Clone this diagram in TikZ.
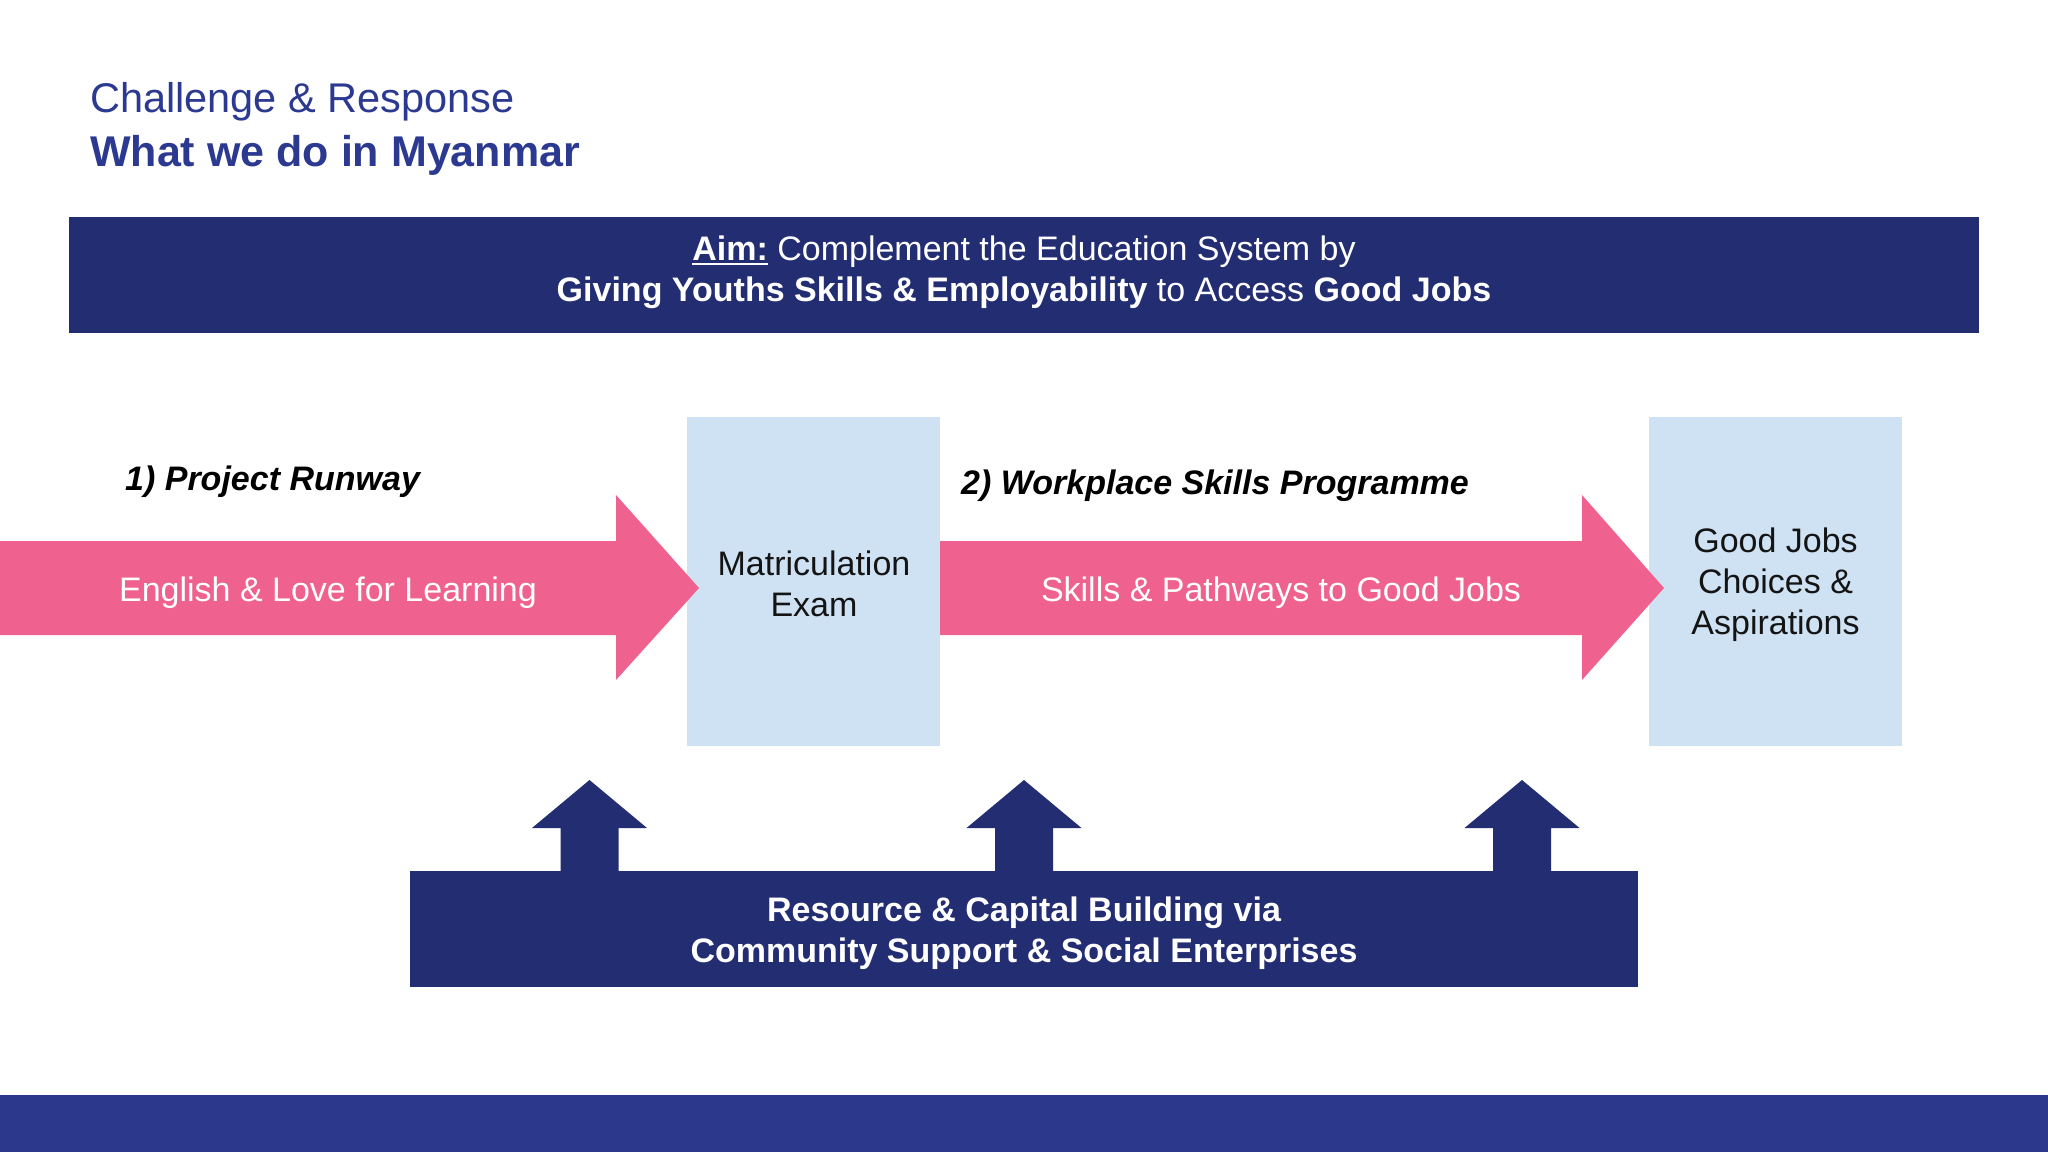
\documentclass[tikz,border=0pt]{standalone}
\usepackage{fontspec}
\setmainfont{Liberation Sans}
\definecolor{navy}{RGB}{35,45,114}
\definecolor{titleblue}{RGB}{43,57,144}
\definecolor{footblue}{RGB}{44,56,140}
\definecolor{pinkarrow}{RGB}{239,97,143}
\definecolor{lightbox}{RGB}{207,226,243}
\newcommand\myul[1]{\setbox0\hbox{#1}\rlap{\rule[-5pt]{\wd0}{2.5pt}}\box0\relax}
\tikzset{
  bodytext/.style={font=\fontsize{34}{41}\selectfont, align=center, inner sep=0pt},
  whitetext/.style={bodytext, text=white},
  darktext/.style={bodytext, text=black!92},
  labeltext/.style={font=\fontsize{34}{41}\selectfont\bfseries\itshape, inner sep=0pt, anchor=west, text=black},
  stagebox/.style={fill=lightbox, draw=none, minimum width=253pt, minimum height=329pt, inner sep=0pt},
  navybar/.style={fill=navy, draw=none, inner sep=0pt},
  pinkshape/.style={fill=pinkarrow, draw=none},
  navyshape/.style={fill=navy, draw=none},
}
\begin{document}
\begin{tikzpicture}[x=1pt,y=-1pt]
\useasboundingbox (0,0) rectangle (2048,1152);
\fill[white] (0,0) rectangle (2048,1152);

% titles
\node[anchor=west, inner sep=0pt, text=titleblue, font=\fontsize{41.5}{48}\selectfont] (t1) at (90,102) {Challenge \& Response};
\node[anchor=west, inner sep=0pt, text=titleblue, font=\fontsize{43}{50}\selectfont\bfseries] (t2) at (90,155) {What we do in Myanmar};

% aim bar
\node[navybar, minimum width=1910pt, minimum height=116pt] (aim) at (1024,275) {};
\node[whitetext] (aimtext) at (1024,272) {\myul{\textbf{Aim:}} Complement the Education System by\\
\textbf{Giving Youths Skills \& Employability} to Access \textbf{Good Jobs}};

% stage boxes
\node[stagebox] (matric) at (813.5,581.5) {};
\node[darktext] (matrictext) at (814,584) {Matriculation\\Exam};
\node[stagebox] (goodjobs) at (1775.5,581.5) {};
\node[darktext] (goodjobstext) at (1775.5,585) {Good Jobs\\Choices \&\\Aspirations};

% pink arrows
\fill[pinkshape] (0,541) -- (616,541) -- (616,495) -- (699,588) -- (616,680) -- (616,635) -- (0,635) -- cycle;
\fill[pinkshape] (matric.east |- 0,541) -- (1582,541) -- (1582,495) -- (1664,588) -- (1582,680) -- (1582,635) -- (matric.east |- 0,635) -- cycle;
\node[whitetext] (eng) at (328,593) {English \& Love for Learning};
\node[whitetext] (skills) at (1281,593) {Skills \& Pathways to Good Jobs};

% labels
\node[labeltext] (l1) at (125,482) {1) Project Runway};
\node[labeltext] (l2) at (961,486) {2) Workplace Skills Programme};

% resource bar
\node[navybar, minimum width=1228pt, minimum height=116pt] (res) at (1024,929) {};
\node[whitetext, font=\fontsize{34}{41}\selectfont\bfseries] (restext) at (1024,933) {Resource \& Capital Building via\\Community Support \& Social Enterprises};

% up arrows
\foreach \cx in {589.5,1024,1522}{
  \fill[navyshape] (\cx-29,872) -- (\cx-29,828) -- (\cx-57.5,828) -- (\cx,780) -- (\cx+57.5,828) -- (\cx+29,828) -- (\cx+29,872) -- cycle;
}

% footer
\fill[footblue] (0,1095) rectangle (2048,1152);
\end{tikzpicture}
\end{document}
